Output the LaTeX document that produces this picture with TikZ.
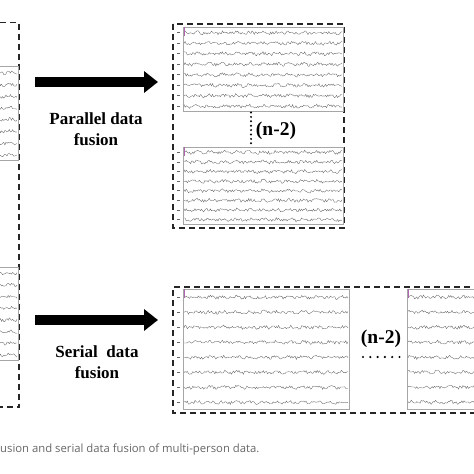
\documentclass[tikz,border=0pt]{standalone}
\usepackage{fontspec}
\setmainfont{Liberation Serif}
\newfontfamily\capfont{Open Sans}
\usetikzlibrary{arrows.meta}
\tikzset{
  dashbox/.style={draw=black!85, line width=1.5pt, dash pattern=on 6pt off 4pt},
  panelframe/.style={draw=black!35, line width=0.5pt},
  eegline/.style={draw=black!60, line width=0.35pt},
  chantick/.style={draw=black!60, line width=0.6pt},
  marker/.style={draw=violet!60, line width=0.5pt},
  fatarrow/.style={line width=10pt, -{Triangle[length=14pt,width=21pt]}},
  lbl/.style={font=\bfseries\fontsize{17}{21}\selectfont, align=center, inner sep=0pt},
  nlbl/.style={font=\bfseries\fontsize{19.5}{21}\selectfont, inner sep=0pt},
  dotsty/.style={fill=black, draw=none},
}
% panel: x0, y0, x1, y1, ticks(1/0), marker(1/0)
\newcommand\eegpanel[6]{%
  \draw[panelframe] (#1,#2) rectangle (#3,#4);
  \pgfmathsetmacro\eegdy{(#4-#2)/8}
  \pgfmathsetmacro\eegxa{#1+1}
  \pgfmathsetmacro\eegxb{#3-1}
  \pgfmathtruncatemacro\eegns{(#3-#1)/1.1}
  \foreach \k in {0,...,7}{
    \pgfmathsetmacro\eegyy{#2+\eegdy*(\k+0.55)}
    \draw[eegline] plot[domain=\eegxa:\eegxb, samples=\eegns] (\x,{\eegyy+1.5*rand+0.7*sin(\x*27)});
    \ifnum#5=1
      \draw[chantick] ({#1-6},\eegyy) -- ({#1-3},\eegyy);
    \fi
  }
  \ifnum#6=1
    \draw[marker] ({#1+1},#2) -- ({#1+1},{#2+9});
  \fi
}
\begin{document}
\begin{tikzpicture}[x=1pt,y=-1pt]
\useasboundingbox (0,0) rectangle (474,474);
\clip (0,0) rectangle (474,474);
\pgfmathsetseed{7}

% left box (mostly cut off)
\draw[dashbox] (-40,22.5) -- (19,22.5) -- (19,407) -- (-40,407);
\eegpanel{-60}{66.5}{18}{160}{0}{0}
\eegpanel{-60}{267}{18}{360}{0}{0}

% top-right box
\draw[dashbox] (173,24) rectangle (344,228);
\eegpanel{183}{27}{343}{111}{1}{1}
\eegpanel{183}{147}{343}{224}{1}{1}

% bottom-right box
\draw[dashbox] (500,287) -- (173,287) -- (173,413) -- (500,413);
\eegpanel{183}{289}{349}{409}{1}{1}
\eegpanel{407}{289}{520}{409}{0}{1}

% arrows
\coordinate (a1s) at (35,82);
\coordinate (a1e) at (158,82);
\coordinate (a2s) at (35,320);
\coordinate (a2e) at (158,320);
\draw[fatarrow] (a1s) -- (a1e);
\draw[fatarrow] (a2s) -- (a2e);

% labels
\node[lbl] (plab) at (96,129) {Parallel data\\fusion};
\node[lbl] (slab) at (97,362) {Serial\ \ data\\fusion};

% (n-2) top
\node[nlbl] (n1) at (276,131) {(n-2)};
\foreach \i in {0,...,7} \fill[dotsty] (251,{112.5+\i*4.4}) circle (1.1);
% (n-2) bottom
\node[nlbl] (n2) at (381,339) {(n-2)};
\foreach \i in {0,...,5} \fill[dotsty] ({363+\i*7.3},357) circle (1.2);

% caption
\node[anchor=west, inner sep=0pt, font=\capfont\fontsize{11.3}{13}\selectfont, text=black!60] (cap) at (0,450) {usion and serial data fusion of multi-person data.};
\end{tikzpicture}
\end{document}
